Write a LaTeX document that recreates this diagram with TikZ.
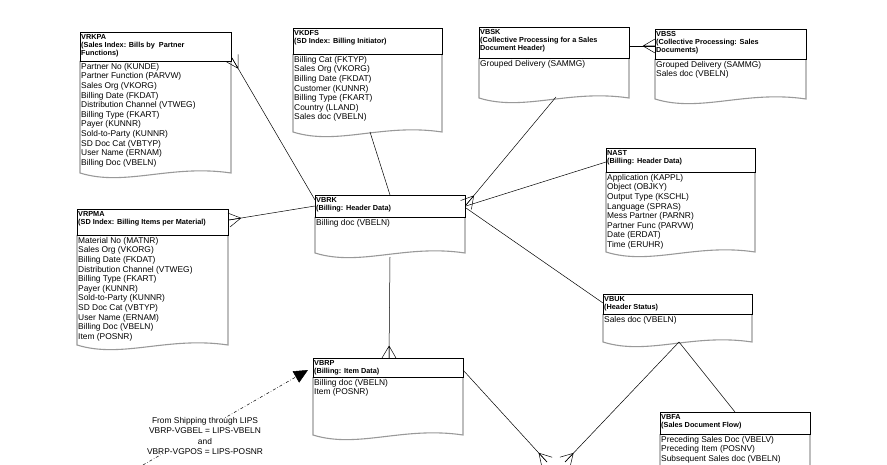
\documentclass[tikz,border=0pt]{standalone}
\usepackage{fontspec}
\setmainfont{Liberation Sans}
\usetikzlibrary{calc,arrows.meta}
\tikzset{
 hdr/.style={anchor=north west,inner sep=1pt,font=\fontsize{7.3}{8.2}\selectfont\bfseries,align=left},
 bdy/.style={anchor=north west,inner sep=1pt,font=\fontsize{8.4}{9.6}\selectfont,align=left},
 conn/.style={line width=0.5pt},
}
% name, x, y, w, header height, body height, header, body
\newcommand\ent[8]{%
 \draw[gray!80,line width=1.1pt] (#2,#3+#5) -- (#2,#3+#5+#6) .. controls (#2+0.3*#4,#3+#5+#6+14) and (#2+0.6*#4,#3+#5+#6-9) .. (#2+#4,#3+#5+#6) -- (#2+#4,#3+#5);
 \draw[line width=0.6pt] (#2,#3) rectangle (#2+#4,#3+#5);
 \node[hdr] (#1) at (#2,#3+1) {#7};
 \node[bdy] (#1b) at (#2,#3+#5+1) {#8};
}
\newcommand\crow[2]{% foot at #1, line coming from #2
 \coordinate (cP) at ($(#1)!12pt!(#2)$);
 \draw[conn] (cP) -- ($(#1)!7pt!90:(cP)$) (cP) -- (#1) (cP) -- ($(#1)!7pt!-90:(cP)$);
}
\begin{document}
\begin{tikzpicture}[x=1pt,y=-1pt]
\useasboundingbox (0,0) rectangle (887,465);
\ent{vrkpa}{80}{32}{151}{29}{112}{VRKPA\\(Sales Index: Bills by\ \ Partner\\Functions)}{Partner No (KUNDE)\\Partner Function (PARVW)\\Sales Org (VKORG)\\Billing Date (FKDAT)\\Distribution Channel (VTWEG)\\Billing Type (FKART)\\Payer (KUNNR)\\Sold-to-Party (KUNNR)\\SD Doc Cat (VBTYP)\\User Name (ERNAM)\\Billing Doc (VBELN)}
\ent{vkdfs}{293}{28}{149}{26}{78}{VKDFS\\(SD Index: Billing Initiator)}{Billing Cat (FKTYP)\\Sales Org (VKORG)\\Billing Date (FKDAT)\\Customer (KUNNR)\\Billing Type (FKART)\\Country (LLAND)\\Sales doc (VBELN)}
\ent{vbsk}{479}{27}{150}{31}{40}{VBSK\\(Collective Processing for a Sales\\Document Header)}{Grouped Delivery (SAMMG)}
\ent{vbss}{655}{29}{151}{30}{40}{VBSS\\(Collective Processing: Sales\\Documents)}{Grouped Delivery (SAMMG)\\Sales doc (VBELN)}
\ent{nast}{606}{148}{149}{24}{80}{NAST\\(Billing: Header Data)}{Application (KAPPL)\\Object (OBJKY)\\Output Type (KSCHL)\\Language (SPRAS)\\Mess Partner (PARNR)\\Partner Func (PARVW)\\Date (ERDAT)\\Time (ERUHR)}
\ent{vbrk}{315}{195}{150}{22}{36}{VBRK\\(Billing: Header Data)}{Billing doc (VBELN)}
\ent{vrpma}{77}{209}{151}{26}{110}{VRPMA\\(SD Index: Billing Items per Material)}{Material No (MATNR)\\Sales Org (VKORG)\\Billing Date (FKDAT)\\Distribution Channel (VTWEG)\\Billing Type (FKART)\\Payer (KUNNR)\\Sold-to-Party (KUNNR)\\SD Doc Cat (VBTYP)\\User Name (ERNAM)\\Billing Doc (VBELN)\\Item (POSNR)}
\ent{vbrp}{313}{358}{150}{19}{58}{VBRP\\(Billing: Item Data)}{Billing doc (VBELN)\\Item (POSNR)}
\ent{vbuk}{603}{294}{149}{20}{28}{VBUK\\(Header Status)}{Sales doc (VBELN)}
\ent{vbfa}{660}{412}{150}{22}{60}{VBFA\\(Sales Document Flow)}{Preceding Sales Doc (VBELV)\\Preceding Item (POSNV)\\Subsequent Sales doc (VBELN)}
% connector end points
\coordinate (a1) at (232,58); \coordinate (a2) at (315,200);
\draw[conn] (a1) -- (a2); \crow{a1}{a2}
\coordinate (b1) at (370,132); \coordinate (b2) at (390,195); \draw[conn] (b1) -- (b2);
\coordinate (c1) at (556,97); \coordinate (c2) at (466,205); \draw[conn] (c1) -- (c2); \crow{c2}{c1}
\coordinate (d1) at (629,46); \coordinate (d2) at (655,46); \draw[conn] (d1) -- (d2); \crow{d2}{d1}
\coordinate (e1) at (606,162); \coordinate (e2) at (466,206); \draw[conn] (e1) -- (e2);
\coordinate (f1) at (466,208); \coordinate (f2) at (603,303); \draw[conn] (f1) -- (f2);
\coordinate (g1) at (229,220); \coordinate (g2) at (315,206); \draw[conn] (g1) -- (g2); \crow{g1}{g2}
\coordinate (h1) at (390,257); \coordinate (h2) at (389,358); \draw[conn] (h1) -- (h2); \crow{h2}{h1}
\coordinate (i1) at (463,370); \coordinate (i2) at (547,462); \draw[conn] (i1) -- (i2); \crow{i2}{i1}
\coordinate (j1) at (679,342); \coordinate (j2) at (565,462); \draw[conn] (j1) -- (j2); \crow{j2}{j1}
\coordinate (k1) at (679,342); \coordinate (k2) at (735,412); \draw[conn] (k1) -- (k2);
\coordinate (m1) at (143,465); \coordinate (m2) at (308,370);
\draw[conn,dash dot,-{Triangle[length=14pt,width=13pt]}] (m1) -- (m2);
\node[font=\fontsize{8.4}{10.2}\selectfont,align=center,fill=white,inner sep=0pt] (lbl) at (205,436) {From Shipping through LIPS\\VBRP-VGBEL = LIPS-VBELN\\and\\VBRP-VGPOS = LIPS-POSNR};
\end{tikzpicture}
\end{document}
